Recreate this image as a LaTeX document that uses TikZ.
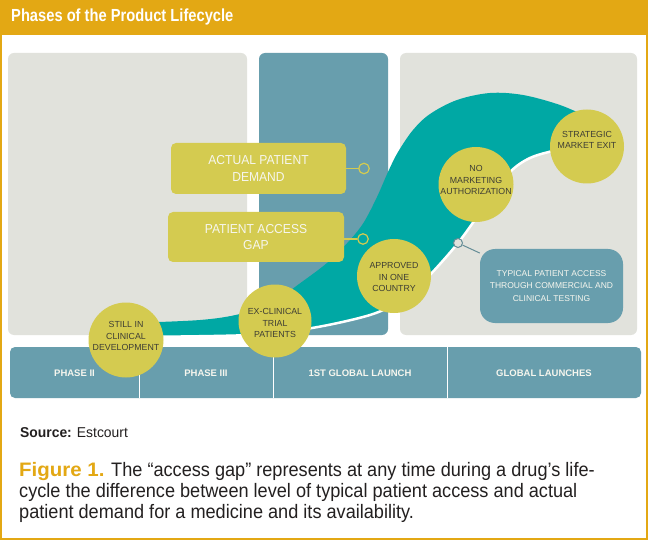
\documentclass[tikz,border=0pt]{standalone}
\usepackage{fontspec}
\setmainfont{Liberation Sans}
\newfontfamily\titlefont[FakeStretch=0.84]{Liberation Sans}
\newfontfamily\boxfont[FakeStretch=0.93]{Liberation Sans}
\newfontfamily\srcfont[FakeStretch=0.97]{Liberation Sans}
\newfontfamily\capfont[FakeStretch=0.93]{Liberation Sans}
\newfontfamily\figfont[FakeStretch=1.05]{Liberation Sans}
\usetikzlibrary{calc}
\definecolor{hdr}{RGB}{227,168,20}
\definecolor{panelgray}{RGB}{225,226,220}
\definecolor{steel}{RGB}{104,158,173}
\definecolor{tealband}{RGB}{0,168,164}
\definecolor{olive}{RGB}{212,203,80}
\definecolor{circtext}{RGB}{62,62,52}
\definecolor{captext}{RGB}{35,32,32}
\definecolor{lighttext}{RGB}{246,246,238}
\definecolor{markerline}{RGB}{100,140,150}
\tikzset{
  panel/.style={fill=panelgray, rounded corners=6pt},
  bluepanel/.style={fill=steel, rounded corners=6pt},
  ybox/.style={rectangle, fill=olive, rounded corners=5pt, inner sep=0pt,
    text=lighttext, align=center, font=\boxfont\fontsize{13}{16.5}\selectfont},
  ydisc/.style={circle, fill=olive, inner sep=0pt, minimum size=74pt},
  ctext/.style={align=center, text=circtext, inner sep=0pt,
    font=\fontsize{8.8}{11.2}\selectfont},
  ring/.style={circle, draw=olive, line width=1.2pt, inner sep=0pt, minimum size=10.5pt},
  barlabel/.style={text=lighttext, font=\bfseries\fontsize{9.5}{11}\selectfont, inner sep=0pt},
  divider/.style={draw=white, line width=0.9pt},
  capline/.style={anchor=base west, inner sep=0pt, text=captext,
    font=\capfont\fontsize{19.5}{21}\selectfont},
}
\begin{document}
\begin{tikzpicture}[x=1pt,y=-1pt]
\useasboundingbox (0,0) rectangle (648,540);
\fill[white] (0,0) rectangle (648,540);
% header
\fill[hdr] (0,0) rectangle (648,35);
\draw[hdr, line width=2pt] (1,0) -- (1,539) -- (647,539) -- (647,0);
\node[anchor=base west, inner sep=0pt, text=white,
  font=\titlefont\bfseries\fontsize{17.5}{19}\selectfont] (title) at (11,22)
  {Phases of the Product Lifecycle};
% panels
\path[panel] (8,53) rectangle (247,335);
\path[bluepanel] (259,53) rectangle (388,335);
\path[panel] (400,53) rectangle (637,335);
% teal band
\fill[tealband]
  plot[smooth, tension=0.55] coordinates {(130,323) (200,320) (240,314) (275,302)
    (295,287) (327,263) (350,240) (364,222) (377,197) (388,172) (398,152)
    (413,130) (430,114) (457,100) (490,93) (523,95) (560,105) (590,118)}
  -- plot[smooth, tension=0.55] coordinates {(590,144) (557,150) (530,158)
    (510,172) (490,198) (472,224) (458,243) (440,264) (420,285) (400,301)
    (370,315) (312,328) (250,335) (130,337)}
  -- cycle;
\draw[white, line width=2.5pt]
  plot[smooth, tension=0.55] coordinates {(590,144) (557,150) (530,158)
    (510,172) (490,198) (472,224) (458,243) (440,264) (420,285) (400,301)
    (370,315) (312,328) (250,335) (130,337)};
% bottom bar
\fill[steel, rounded corners=5pt] (10,347) rectangle (641,398);
\draw[divider] (139,347) -- (139,398);
\draw[divider] (273,347) -- (273,398);
\draw[divider] (447,347) -- (447,398);
\node[barlabel] (ph2) at (74.5,373) {PHASE II};
\node[barlabel] (ph3) at (206,373) {PHASE III};
\node[barlabel] (first) at (360,373) {1ST GLOBAL LAUNCH};
\node[barlabel] (global) at (544,373) {GLOBAL LAUNCHES};
% yellow boxes and rings
\node[ybox, minimum width=175pt, minimum height=51pt] (demand) at (258.5,168.5)
  {ACTUAL PATIENT\\DEMAND};
\node[ybox, minimum width=176pt, minimum height=50pt] (gap) at (256,237)
  {PATIENT ACCESS\\GAP};
\node[ring] (dring) at (364,168.5) {};
\node[ring] (gring) at (363,239) {};
\draw[olive, line width=1.2pt] (demand.east |- dring) -- (dring);
\draw[olive, line width=1.2pt] (gap.east |- gring) -- (gring);
% typical access box
\node[rectangle, fill=steel, rounded corners=15pt, minimum width=143pt,
  minimum height=74pt, align=center, text=lighttext, inner sep=0pt,
  font=\fontsize{8.5}{12.5}\selectfont] (typical) at (551.5,286)
  {TYPICAL PATIENT ACCESS\\THROUGH COMMERCIAL AND\\CLINICAL TESTING};
\node[circle, draw=markerline, fill=panelgray, line width=1pt, inner sep=0pt,
  minimum size=9pt] (marker) at (458,243) {};
\draw[markerline, line width=1pt] (marker) -- (typical);
% discs
\node[ydisc, minimum size=75pt] (still) at (126,340) {};
\node[ctext] (stillt) at (126,336) {STILL IN\\CLINICAL\\DEVELOPMENT};
\node[ydisc, minimum size=73pt] (excl) at (275,321) {};
\node[ctext] (exclt) at (275,323) {EX-CLINICAL\\TRIAL\\PATIENTS};
\node[ydisc] (appr) at (394,276) {};
\node[ctext] (apprt) at (394,277) {APPROVED\\IN ONE\\COUNTRY};
\node[ydisc, minimum size=75pt] (nomkt) at (476,184.5) {};
\node[ctext] (nomktt) at (476,180) {NO\\MARKETING\\AUTHORIZATION};
\node[ydisc] (exit) at (587,146.5) {};
\node[ctext] (exitt) at (587,140) {STRATEGIC\\MARKET EXIT};
% source and caption
\node[anchor=base west, inner sep=0pt, text=captext,
  font=\srcfont\fontsize{14.3}{16}\selectfont] (source) at (20,437.5)
  {\textbf{Source:} Estcourt};
\node[capline] (cap1) at (19,476.7)
  {\textcolor{hdr}{\figfont\bfseries Figure 1.} The “access gap” represents at any time during a drug’s life-};
\node[capline] (cap2) at (19,497.5)
  {cycle the difference between level of typical patient access and actual};
\node[capline] (cap3) at (19,518.3)
  {patient demand for a medicine and its availability.};
\end{tikzpicture}
\end{document}
